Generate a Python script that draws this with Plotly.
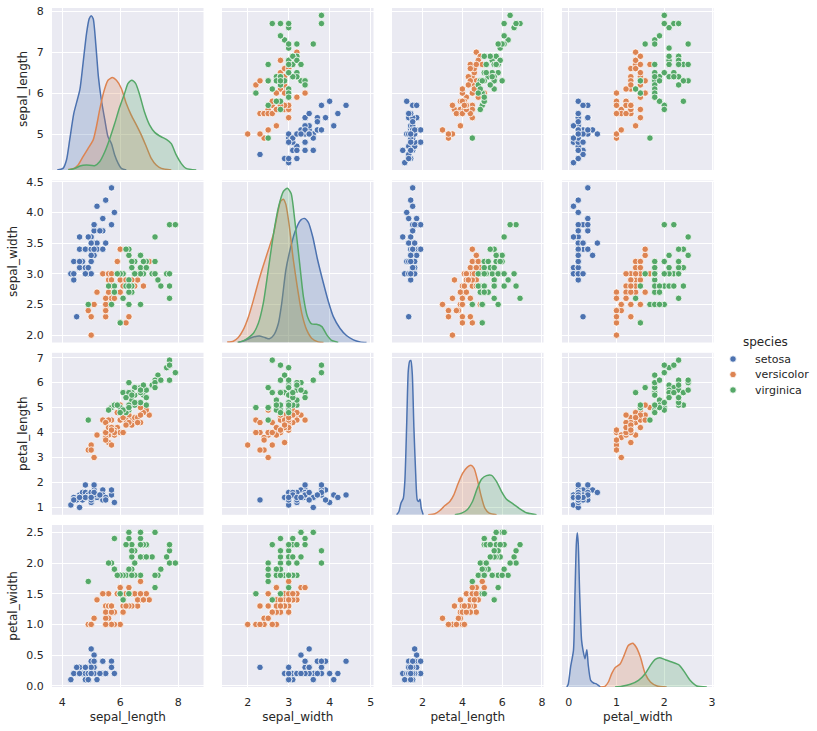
"""Iris pair plot with per-species density curves on the diagonal."""

import plotly.graph_objects as go

FEATURES = ["sepal_length", "sepal_width", "petal_length", "petal_width"]
SPECIES = ["setosa", "versicolor", "virginica"]
COLORS = {"setosa": "#4C72B0", "versicolor": "#DD8452", "virginica": "#55A868"}
FILLS = {
    "setosa": "rgba(76,114,176,0.25)",
    "versicolor": "rgba(221,132,82,0.25)",
    "virginica": "rgba(85,168,104,0.25)",
}

setosa_sepal_length = [5.1, 4.9, 4.7, 4.6, 5.0, 5.4, 4.6, 5.0, 4.4, 4.9, 5.4, 4.8, 4.8, 4.3, 5.8, 5.7, 5.4, 5.1, 5.7, 5.1, 5.4, 5.1, 4.6, 5.1, 4.8, 5.0, 5.0, 5.2, 5.2, 4.7, 4.8, 5.4, 5.2, 5.5, 4.9, 5.0, 5.5, 4.9, 4.4, 5.1, 5.0, 4.5, 4.4, 5.0, 5.1, 4.8, 5.1, 4.6, 5.3, 5.0]
setosa_sepal_width = [3.5, 3.0, 3.2, 3.1, 3.6, 3.9, 3.4, 3.4, 2.9, 3.1, 3.7, 3.4, 3.0, 3.0, 4.0, 4.4, 3.9, 3.5, 3.8, 3.8, 3.4, 3.7, 3.6, 3.3, 3.4, 3.0, 3.4, 3.5, 3.4, 3.2, 3.1, 3.4, 4.1, 4.2, 3.1, 3.2, 3.5, 3.6, 3.0, 3.4, 3.5, 2.3, 3.2, 3.5, 3.8, 3.0, 3.8, 3.2, 3.7, 3.3]
setosa_petal_length = [1.4, 1.4, 1.3, 1.5, 1.4, 1.7, 1.4, 1.5, 1.4, 1.5, 1.5, 1.6, 1.4, 1.1, 1.2, 1.5, 1.3, 1.4, 1.7, 1.5, 1.7, 1.5, 1.0, 1.7, 1.9, 1.6, 1.6, 1.5, 1.4, 1.6, 1.6, 1.5, 1.5, 1.4, 1.5, 1.2, 1.3, 1.4, 1.3, 1.5, 1.3, 1.3, 1.3, 1.6, 1.9, 1.4, 1.6, 1.4, 1.5, 1.4]
setosa_petal_width = [0.2, 0.2, 0.2, 0.2, 0.2, 0.4, 0.3, 0.2, 0.2, 0.1, 0.2, 0.2, 0.1, 0.1, 0.2, 0.4, 0.4, 0.3, 0.3, 0.3, 0.2, 0.4, 0.2, 0.5, 0.2, 0.2, 0.4, 0.2, 0.2, 0.2, 0.2, 0.4, 0.1, 0.2, 0.2, 0.2, 0.2, 0.1, 0.2, 0.2, 0.3, 0.3, 0.2, 0.6, 0.4, 0.3, 0.2, 0.2, 0.2, 0.2]

versicolor_sepal_length = [7.0, 6.4, 6.9, 5.5, 6.5, 5.7, 6.3, 4.9, 6.6, 5.2, 5.0, 5.9, 6.0, 6.1, 5.6, 6.7, 5.6, 5.8, 6.2, 5.6, 5.9, 6.1, 6.3, 6.1, 6.4, 6.6, 6.8, 6.7, 6.0, 5.7, 5.5, 5.5, 5.8, 6.0, 5.4, 6.0, 6.7, 6.3, 5.6, 5.5, 5.5, 6.1, 5.8, 5.0, 5.6, 5.7, 5.7, 6.2, 5.1, 5.7]
versicolor_sepal_width = [3.2, 3.2, 3.1, 2.3, 2.8, 2.8, 3.3, 2.4, 2.9, 2.7, 2.0, 3.0, 2.2, 2.9, 2.9, 3.1, 3.0, 2.7, 2.2, 2.5, 3.2, 2.8, 2.5, 2.8, 2.9, 3.0, 2.8, 3.0, 2.9, 2.6, 2.4, 2.4, 2.7, 2.7, 3.0, 3.4, 3.1, 2.3, 3.0, 2.5, 2.6, 3.0, 2.6, 2.3, 2.7, 3.0, 2.9, 2.9, 2.5, 2.8]
versicolor_petal_length = [4.7, 4.5, 4.9, 4.0, 4.6, 4.5, 4.7, 3.3, 4.6, 3.9, 3.5, 4.2, 4.0, 4.7, 3.6, 4.4, 4.5, 4.1, 4.5, 3.9, 4.8, 4.0, 4.9, 4.7, 4.3, 4.4, 4.8, 5.0, 4.5, 3.5, 3.8, 3.7, 3.9, 5.1, 4.5, 4.5, 4.7, 4.4, 4.1, 4.0, 4.4, 4.6, 4.0, 3.3, 4.2, 4.2, 4.2, 4.3, 3.0, 4.1]
versicolor_petal_width = [1.4, 1.5, 1.5, 1.3, 1.5, 1.3, 1.6, 1.0, 1.3, 1.4, 1.0, 1.5, 1.0, 1.4, 1.3, 1.4, 1.5, 1.0, 1.5, 1.1, 1.8, 1.3, 1.5, 1.2, 1.3, 1.4, 1.4, 1.7, 1.5, 1.0, 1.1, 1.0, 1.2, 1.6, 1.5, 1.6, 1.5, 1.3, 1.3, 1.3, 1.2, 1.4, 1.2, 1.0, 1.3, 1.2, 1.3, 1.3, 1.1, 1.3]

virginica_sepal_length = [6.3, 5.8, 7.1, 6.3, 6.5, 7.6, 4.9, 7.3, 6.7, 7.2, 6.5, 6.4, 6.8, 5.7, 5.8, 6.4, 6.5, 7.7, 7.7, 6.0, 6.9, 5.6, 7.7, 6.3, 6.7, 7.2, 6.2, 6.1, 6.4, 7.2, 7.4, 7.9, 6.4, 6.3, 6.1, 7.7, 6.3, 6.4, 6.0, 6.9, 6.7, 6.9, 5.8, 6.8, 6.7, 6.7, 6.3, 6.5, 6.2, 5.9]
virginica_sepal_width = [3.3, 2.7, 3.0, 2.9, 3.0, 3.0, 2.5, 2.9, 2.5, 3.6, 3.2, 2.7, 3.0, 2.5, 2.8, 3.2, 3.0, 3.8, 2.6, 2.2, 3.2, 2.8, 2.8, 2.7, 3.3, 3.2, 2.8, 3.0, 2.8, 3.0, 2.8, 3.8, 2.8, 2.8, 2.6, 3.0, 3.4, 3.1, 3.0, 3.1, 3.1, 3.1, 2.7, 3.2, 3.3, 3.0, 2.5, 3.0, 3.4, 3.0]
virginica_petal_length = [6.0, 5.1, 5.9, 5.6, 5.8, 6.6, 4.5, 6.3, 5.8, 6.1, 5.1, 5.3, 5.5, 5.0, 5.1, 5.3, 5.5, 6.7, 6.9, 5.0, 5.7, 4.9, 6.7, 4.9, 5.7, 6.0, 4.8, 4.9, 5.6, 5.8, 6.1, 6.4, 5.6, 5.1, 5.6, 6.1, 5.6, 5.5, 4.8, 5.4, 5.6, 5.1, 5.1, 5.9, 5.7, 5.2, 5.0, 5.2, 5.4, 5.1]
virginica_petal_width = [2.5, 1.9, 2.1, 1.8, 2.2, 2.1, 1.7, 1.8, 1.8, 2.5, 2.0, 1.9, 2.1, 2.0, 2.4, 2.3, 1.8, 2.2, 2.3, 1.5, 2.3, 2.0, 2.0, 1.8, 2.1, 1.8, 1.8, 1.8, 2.1, 1.6, 1.9, 2.0, 2.2, 1.5, 1.4, 2.3, 2.4, 1.8, 1.8, 2.1, 2.4, 2.3, 1.9, 2.3, 2.5, 2.3, 1.9, 2.0, 2.3, 1.8]

# density curves
kde_sl_setosa_x = [3.83, 4.03, 4.15, 4.26, 4.40, 4.61, 4.72, 4.84, 4.93, 5.0, 5.07, 5.16, 5.25, 5.35, 5.47, 5.58, 5.70, 5.81, 5.93, 6.04, 6.21]
kde_sl_setosa_y = [0, .013, .08, .24, .45, .64, .85, 1.09, 1.205, 1.23, 1.205, 1.0, .74, .56, .40, .265, .21, .12, .053, .013, 0]
kde_sl_versicolor_x = [4.21, 4.40, 4.55, 4.72, 4.89, 5.07, 5.18, 5.29, 5.43, 5.58, 5.73, 5.87, 6.04, 6.21, 6.38, 6.56, 6.73, 6.90, 7.07, 7.24, 7.42, 7.76]
kde_sl_versicolor_y = [.005, .013, .04, .106, .17, .24, .345, .477, .62, .715, .737, .715, .65, .53, .437, .358, .278, .186, .093, .04, .013, 0]
kde_sl_virginica_x = [4.21, 4.44, 4.61, 4.84, 5.12, 5.29, 5.47, 5.64, 5.81, 5.98, 6.15, 6.27, 6.40, 6.53, 6.67, 6.84, 7.01, 7.19, 7.41, 7.59, 7.76, 7.93, 8.10, 8.27, 8.62]
kde_sl_virginica_y = [0, .013, .032, .04, .034, .066, .146, .25, .37, .50, .61, .69, .716, .69, .60, .46, .36, .30, .265, .244, .21, .12, .053, .013, 0]

kde_sw_setosa_x = [1.77, 1.93, 2.10, 2.28, 2.42, 2.53, 2.64, 2.75, 2.83, 2.93, 3.03, 3.15, 3.28, 3.38, 3.48, 3.59, 3.70, 3.85, 3.97, 4.09, 4.25, 4.41, 4.58, 4.74, 4.90]
kde_sw_setosa_y = [0, .016, .039, .052, .039, .029, .06, .151, .307, .567, .723, .866, .957, .975, .944, .827, .658, .463, .32, .203, .112, .055, .021, .005, 0]
kde_sw_versicolor_x = [1.50, 1.65, 1.77, 1.89, 2.02, 2.14, 2.26, 2.37, 2.50, 2.63, 2.75, 2.80, 2.87, 2.93, 3.02, 3.11, 3.21, 3.32, 3.44, 3.56, 3.72, 3.85]
kde_sw_versicolor_y = [.003, .01, .039, .099, .203, .333, .476, .593, .723, .853, 1.048, 1.108, 1.126, 1.087, .905, .658, .437, .229, .099, .034, .005, 0]
kde_sw_virginica_x = [1.75, 1.89, 2.02, 2.14, 2.26, 2.38, 2.50, 2.63, 2.75, 2.87, 2.97, 3.06, 3.15, 3.26, 3.36, 3.46, 3.56, 3.68, 3.81, 3.93, 4.05, 4.21]
kde_sw_virginica_y = [0, .013, .039, .073, .151, .307, .567, .853, 1.061, 1.186, 1.212, 1.17, .957, .645, .359, .203, .146, .143, .125, .06, .016, 0]

kde_pl_setosa_x = [.69, .81, .91, 1.03, 1.11, 1.20, 1.28, 1.35, 1.41, 1.48, 1.56, 1.65, 1.73, 1.80, 1.87, 1.93, 2.03]
kde_pl_setosa_y = [0, .05, .175, .25, .525, 1.375, 2.175, 2.315, 2.325, 2.125, 1.325, .625, .225, .2, .235, .1, 0]
kde_pl_versicolor_x = [2.28, 2.62, 2.87, 3.12, 3.37, 3.57, 3.79, 4.01, 4.24, 4.43, 4.59, 4.76, 4.93, 5.13, 5.35, 5.72]
kde_pl_versicolor_y = [0, .015, .065, .14, .2, .3, .475, .625, .715, .745, .7, .525, .3, .1, .025, 0]
kde_pl_virginica_x = [3.62, 3.96, 4.24, 4.51, 4.75, 4.96, 5.21, 5.47, 5.72, 5.97, 6.22, 6.55, 6.89, 7.22, 7.73]
kde_pl_virginica_y = [0, .025, .075, .2, .4, .535, .59, .595, .5, .35, .235, .165, .09, .03, 0]

kde_pw_setosa_x = [-.04, -.01, .04, .10, .13, .16, .18, .20, .23, .27, .30, .34, .38, .41, .46, .52, .57, .62, .67]
kde_pw_setosa_y = [0, .12, .9, 1.65, 4.05, 6.45, 6.945, 6.45, 4.2, 2.1, 1.65, 1.275, 1.68, .975, .3, .18, .15, .075, 0]
kde_pw_versicolor_x = [.66, .76, .83, .90, .97, 1.08, 1.16, 1.25, 1.34, 1.41, 1.50, 1.60, 1.71, 1.85, 2.05]
kde_pw_versicolor_y = [0, .03, .225, .6, .87, 1.05, 1.425, 1.875, 1.965, 1.8, 1.35, .6, .225, .045, 0]
kde_pw_virginica_x = [.97, 1.11, 1.29, 1.46, 1.60, 1.71, 1.81, 1.90, 2.02, 2.16, 2.30, 2.40, 2.54, 2.68, 2.89]
kde_pw_virginica_y = [0, .03, .12, .3, .6, .975, 1.245, 1.32, 1.23, 1.125, 1.005, .75, .3, .045, 0]

# axis setup per feature
x_ranges = [[3.65, 8.87], [1.373, 5.07], [0.46, 8.08], [-0.14, 3.03]]
y_ranges = [[4.12, 8.08], [1.88, 4.52], [0.705, 7.195], [-0.02, 2.62]]
x_ticks = [[4, 6, 8], [2, 3, 4, 5], [2, 4, 6, 8], [0, 1, 2, 3]]
y_ticks = [[5, 6, 7, 8], [2.0, 2.5, 3.0, 3.5, 4.0, 4.5], [1, 2, 3, 4, 5, 6, 7], [0.0, 0.5, 1.0, 1.5, 2.0, 2.5]]
y_ticktext = [["5", "6", "7", "8"], ["2.0", "2.5", "3.0", "3.5", "4.0", "4.5"], ["1", "2", "3", "4", "5", "6", "7"], ["0.0", "0.5", "1.0", "1.5", "2.0", "2.5"]]

WIDTH, HEIGHT = 817, 731
INK = "#262626"
PANEL_LEFT = [52, 222, 392, 562]
PANEL_W = 151.5
PANEL_TOP = [8, 180.5, 352.8, 525]
PANEL_H = 162
LEGEND_BOX = (725, 741, 351.25, 397.75)

measurements = {
    "setosa": [setosa_sepal_length, setosa_sepal_width, setosa_petal_length, setosa_petal_width],
    "versicolor": [versicolor_sepal_length, versicolor_sepal_width, versicolor_petal_length, versicolor_petal_width],
    "virginica": [virginica_sepal_length, virginica_sepal_width, virginica_petal_length, virginica_petal_width],
}
densities = [
    {"setosa": (kde_sl_setosa_x, kde_sl_setosa_y), "versicolor": (kde_sl_versicolor_x, kde_sl_versicolor_y), "virginica": (kde_sl_virginica_x, kde_sl_virginica_y)},
    {"setosa": (kde_sw_setosa_x, kde_sw_setosa_y), "versicolor": (kde_sw_versicolor_x, kde_sw_versicolor_y), "virginica": (kde_sw_virginica_x, kde_sw_virginica_y)},
    {"setosa": (kde_pl_setosa_x, kde_pl_setosa_y), "versicolor": (kde_pl_versicolor_x, kde_pl_versicolor_y), "virginica": (kde_pl_virginica_x, kde_pl_virginica_y)},
    {"setosa": (kde_pw_setosa_x, kde_pw_setosa_y), "versicolor": (kde_pw_versicolor_x, kde_pw_versicolor_y), "virginica": (kde_pw_virginica_x, kde_pw_virginica_y)},
]
legend_slots = [2, 1, 0]


def axis_id(letter, n):
    # plotly names the first axis "x", not "x1"
    return letter if n == 1 else f"{letter}{n}"


fig = go.Figure()
layout = {}
marker_style = dict(size=6.5, line=dict(color="white", width=0.8))

for row in range(4):
    for col in range(4):
        n = row * 4 + col + 1
        left = PANEL_LEFT[col]
        top = PANEL_TOP[row]
        xid = axis_id("x", n)
        yid = axis_id("y", n)
        y_range = y_ranges[row]
        y_vals = y_ticks[row]
        if row == col:
            # density panel: grid lines stay where the row's ticks fall
            lo, hi = y_ranges[row]
            density_top = max(max(densities[row][name][1]) for name in SPECIES) * 1.05
            y_range = [0, density_top]
            y_vals = [(tick - lo) / (hi - lo) * density_top for tick in y_ticks[row]]
            for name in SPECIES:
                xs, ys = densities[row][name]
                fig.add_trace(go.Scatter(
                    x=xs, y=ys, xaxis=xid, yaxis=yid, mode="lines",
                    line=dict(color=COLORS[name], width=1.5, shape="spline", smoothing=0.6),
                    fill="tozeroy", fillcolor=FILLS[name], showlegend=False,
                ))
        else:
            for name in SPECIES:
                fig.add_trace(go.Scatter(
                    x=measurements[name][col], y=measurements[name][row],
                    xaxis=xid, yaxis=yid, mode="markers", name=name,
                    marker=dict(color=COLORS[name], **marker_style),
                    showlegend=False,
                ))
        layout[f"xaxis{n}"] = dict(
            domain=[left / WIDTH, (left + PANEL_W) / WIDTH],
            range=x_ranges[col],
            anchor=yid,
            tickvals=x_ticks[col],
            showticklabels=row == 3,
            title=dict(text=FEATURES[col] if row == 3 else "", font=dict(size=12, color=INK), standoff=4),
        )
        layout[f"yaxis{n}"] = dict(
            domain=[1 - (top + PANEL_H) / HEIGHT, 1 - top / HEIGHT],
            range=y_range,
            anchor=xid,
            tickvals=y_vals,
            ticktext=y_ticktext[row],
            showticklabels=col == 0,
            title=dict(text=FEATURES[row] if col == 0 else "", font=dict(size=12, color=INK), standoff=6),
        )

fig.update_layout(**layout)
axis_style = dict(
    showgrid=True, gridcolor="white", gridwidth=1, zeroline=False, showline=False,
    ticks="outside", ticklen=5, tickcolor="rgba(0,0,0,0)", tickfont=dict(size=11, color=INK),
    automargin=False,
)
fig.update_xaxes(**axis_style)
fig.update_yaxes(**axis_style)

# plotly's own legend can't get rows this tight, so it gets a small hidden axis pair
for name, slot in zip(SPECIES, legend_slots):
    fig.add_trace(go.Scatter(
        x=[0.5], y=[slot], xaxis="x17", yaxis="y17", mode="markers", name=name,
        marker=dict(color=COLORS[name], **marker_style), showlegend=False,
    ))
    fig.add_annotation(
        text=name, xref="paper", x=753 / WIDTH, yref="y17", y=slot,
        xanchor="left", yanchor="middle", showarrow=False, font=dict(size=11, color=INK),
    )
fig.add_annotation(
    text="species", xref="paper", x=765 / WIDTH, yref="paper", y=1 - 342 / HEIGHT,
    xanchor="center", yanchor="middle", showarrow=False, font=dict(size=12, color=INK),
)
box_left, box_right, box_top, box_bottom = LEGEND_BOX
# the hidden pair still paints plot_bgcolor, white it out under the markers
fig.add_shape(
    type="rect", xref="paper", yref="paper", layer="below", line_width=0, fillcolor="white",
    x0=box_left / WIDTH - 0.002, x1=box_right / WIDTH + 0.002,
    y0=1 - box_bottom / HEIGHT - 0.002, y1=1 - box_top / HEIGHT + 0.002,
)
fig.update_layout(
    xaxis17=dict(domain=[box_left / WIDTH, box_right / WIDTH], range=[0, 1], anchor="y17", visible=False),
    yaxis17=dict(domain=[1 - box_bottom / HEIGHT, 1 - box_top / HEIGHT], range=[-0.5, 2.5], anchor="x17", visible=False),
    width=WIDTH, height=HEIGHT,
    margin=dict(l=0, r=0, t=0, b=0),
    paper_bgcolor="white", plot_bgcolor="#EAEAF2",
    font=dict(family="DejaVu Sans", color=INK),
    showlegend=False,
)

fig.write_html("out.html", config={"displayModeBar": False}, post_script="document.body.style.margin='0';")
